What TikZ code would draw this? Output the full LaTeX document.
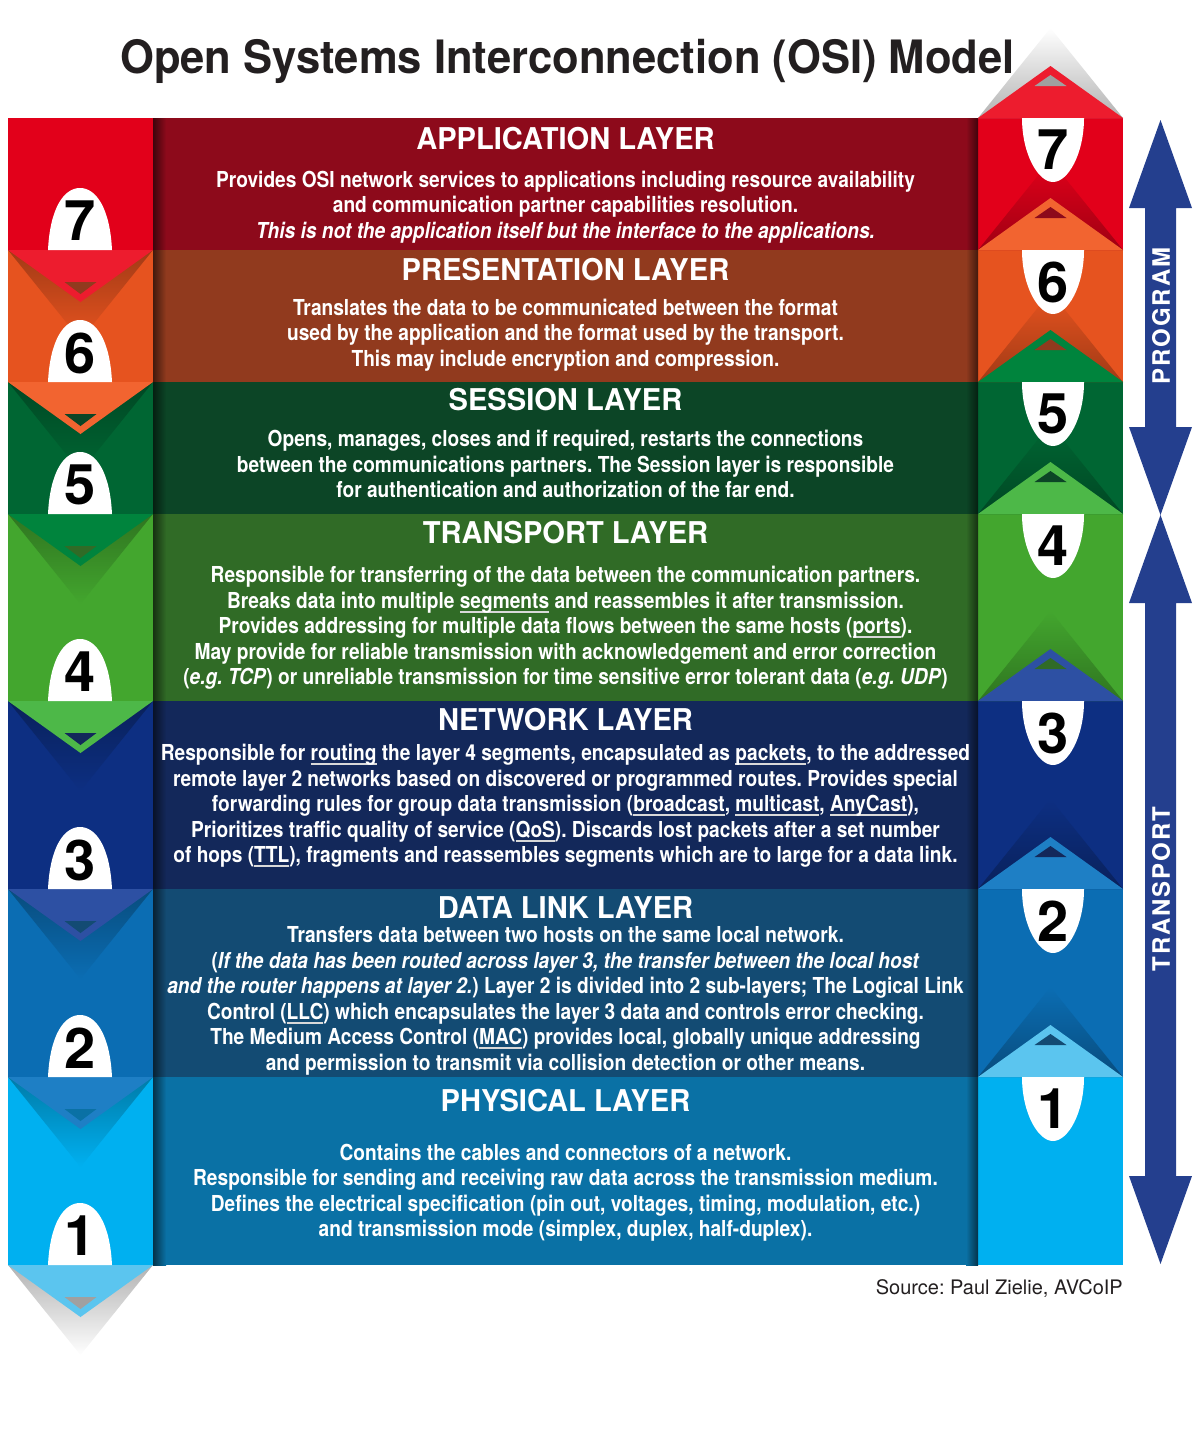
\documentclass[tikz,border=0pt]{standalone}
\usepackage{fontspec}
\usepackage{xcolor}
\usepackage{tikz}
\setmainfont{TeX Gyre Heros}
\newfontfamily\bodyfont{TeX Gyre Heros}[FakeStretch=0.87]
\newfontfamily\headfont{TeX Gyre Heros}[FakeStretch=0.97]
\newfontfamily\titlefont{TeX Gyre Heros}[FakeStretch=0.947]
\newfontfamily\sidefont{TeX Gyre Heros}[LetterSpace=8]
\newcommand\ulw[1]{\setbox0\hbox{#1}\rlap{\color{white!85!black}\vrule height -2.5pt depth 4.5pt width \wd0}\box0{}}

\definecolor{colSeven}{HTML}{E2001A}\definecolor{lightSeven}{HTML}{ED1C2E}\definecolor{bandSeven}{HTML}{8D0A1B}
\definecolor{colSix}{HTML}{E6531F}\definecolor{lightSix}{HTML}{F26430}\definecolor{bandSix}{HTML}{913A1E}
\definecolor{colFive}{HTML}{006633}\definecolor{lightFive}{HTML}{00843D}\definecolor{bandFive}{HTML}{0C4526}
\definecolor{colFour}{HTML}{43A62E}\definecolor{lightFour}{HTML}{4DB848}\definecolor{bandFour}{HTML}{306B26}
\definecolor{colThree}{HTML}{0D2F82}\definecolor{lightThree}{HTML}{2D50A3}\definecolor{bandThree}{HTML}{13285A}
\definecolor{colTwo}{HTML}{0B6DB3}\definecolor{lightTwo}{HTML}{1E7FC5}\definecolor{bandTwo}{HTML}{134B73}
\definecolor{colOne}{HTML}{00B0F0}\definecolor{lightOne}{HTML}{5BC5EF}\definecolor{bandOne}{HTML}{0A71A5}
\definecolor{arrowBlue}{HTML}{243F8E}
\definecolor{titleInk}{HTML}{231F20}
\definecolor{shadowGray}{HTML}{A0A0A0}

\begin{document}
\frenchspacing
\begin{tikzpicture}[x=1pt,y=-1pt,
  layertitle/.style={text=white, font=\headfont\bfseries\fontsize{30}{34}\selectfont},
  layertext/.style={text=white, align=center, font=\bodyfont\bfseries\fontsize{22}{25.5}\selectfont},
  badgenum/.style={text=black, font=\bfseries\fontsize{56}{56}\selectfont},
  sidelabel/.style={text=white, rotate=90, font=\sidefont\bfseries\fontsize{24}{24}\selectfont}]
			\useasboundingbox (0,0) rectangle (1200,1456);
			% 各层底色
			\foreach \t/\b/\c/\k in {118/250/colSeven/bandSeven, 250/382/colSix/bandSix,
			  382/514/colFive/bandFive, 514/701/colFour/bandFour, 701/889/colThree/bandThree,
			  889/1077/colTwo/bandTwo, 1077/1265/colOne/bandOne}{
			  \fill[\c] (8,\t) rectangle (153,\b);
			  \fill[\c] (978,\t) rectangle (1123,\b);
			  \fill[\k] (153,\t) rectangle (978,\b);
			  \shade[left color=\k!45!black, right color=\k] (153,\t) rectangle (166,\b);
			  \shade[left color=\k, right color=\k!45!black] (966,\t) rectangle (978,\b);
			}
			% 阴影
			\foreach \t/\b/\dn/\up in {118/250/colSix/white, 250/382/colFive/colSeven,
			  382/514/colFour/colSix, 514/701/colThree/colFive, 701/889/colTwo/colFour,
			  889/1077/colOne/colThree, 1077/1265/white/colTwo}{
			  \shade[top color=\dn!70!black, bottom color=\dn] (8,\b) -- (153,\b) -- (80.5,{\b+90}) -- cycle;
			  \shade[bottom color=\up!70!black, top color=\up] (978,\t) -- (1123,\t) -- (1050.5,{\t-90}) -- cycle;
			}
			% 箭头形状和编号
			\foreach \t/\b/\l/\n/\dk/\uk in {118/250/lightSeven/7/bandSix/shadowGray,
			  250/382/lightSix/6/bandFive/bandSeven,
			  382/514/lightFive/5/bandFour/bandSix,
			  514/701/lightFour/4/bandThree/bandFive,
			  701/889/lightThree/3/bandTwo/bandFour,
			  889/1077/lightTwo/2/bandOne/bandThree,
			  1077/1265/lightOne/1/shadowGray/bandTwo}{
			  \fill[\l] (8,\b) -- (153,\b) -- (80.5,{\b+52}) -- cycle;
			  \fill[\dk] (64.5,{\b+32}) -- (96.5,{\b+32}) -- (80.5,{\b+44}) -- cycle;
			  \fill[\l] (978,\t) -- (1123,\t) -- (1050.5,{\t-52}) -- cycle;
			  \fill[\uk] (1034.5,{\t-32}) -- (1066.5,{\t-32}) -- (1050.5,{\t-43}) -- cycle;
			  \fill[white] (48,\b) .. controls (50,{\b-42}) and (64,{\b-62}) .. (80,{\b-62})
			    .. controls (96,{\b-62}) and (110,{\b-42}) .. (112,\b) -- cycle;
			  \fill[white] (1022,\t) .. controls (1022,{\t+36}) and (1038,{\t+64}) .. (1053,{\t+64})
			    .. controls (1068,{\t+64}) and (1084,{\t+36}) .. (1084,\t) -- cycle;
			  \node[badgenum] (left\n) at (80,{\b-29}) {\n};
			  \node[badgenum] (right\n) at (1053,{\t+32}) {\n};
			}
			% 右侧双向箭头
			\fill[arrowBlue] (1160.5,120) -- (1192,208) -- (1176,208) -- (1176,427) -- (1192,427) -- (1160.5,515)
			  -- (1129,427) -- (1145,427) -- (1145,208) -- (1129,208) -- cycle;
			\fill[arrowBlue] (1160.5,515) -- (1192,603) -- (1176,603) -- (1176,1176) -- (1192,1176) -- (1160.5,1264)
			  -- (1129,1176) -- (1145,1176) -- (1145,603) -- (1129,603) -- cycle;
			\node[sidelabel] (program) at (1161,316) {PROGRAM};
			\node[sidelabel] (transport) at (1161,889) {TRANSPORT};
			% 标题和来源
			\node[anchor=base, text=titleInk, font=\titlefont\bfseries\fontsize{46}{50}\selectfont] (title) at (567.5,73)
			  {Open Systems Interconnection (OSI) Model};
			\node[anchor=base east, inner sep=0pt, text=titleInk, font=\fontsize{20}{22}\selectfont] (source) at (1123,1294)
			  {Source: Paul Zielie, AVCoIP};
			% 写文字
			\node[layertitle] (appTitle) at (565.5,139) {APPLICATION LAYER};
			\node[layertext] (appText) at (565.5,207) {Provides OSI network services to applications including resource availability\\
			  and communication partner capabilities resolution.\\
			  \textit{This is not the application itself but the interface to the applications.}};
			\node[layertitle] (presTitle) at (565.5,270) {PRESENTATION LAYER};
			\node[layertext] (presText) at (565.5,335) {Translates the data to be communicated between the format\\
			  used by the application and the format used by the transport.\\
			  This may include encryption and compression.};
			\node[layertitle] (sessTitle) at (565.5,400) {SESSION LAYER};
			\node[layertext] (sessText) at (565.5,464) {Opens, manages, closes and if required, restarts the connections\\
			  between the communications partners. The Session layer is responsible\\
			  for authentication and authorization of the far end.};
			\node[layertitle] (tranTitle) at (565.5,533) {TRANSPORT LAYER};
			\node[layertext] (tranText) at (565.5,628) {Responsible for transferring of the data between the communication partners.\\
			  Breaks data into multiple \ulw{segments} and reassembles it after transmission.\\
			  Provides addressing for multiple data flows between the same hosts (\ulw{ports}).\\
			  May provide for reliable transmission with acknowledgement and error correction\\
			  (\textit{e.g. TCP}) or unreliable transmission for time sensitive error tolerant data (\textit{e.g. UDP})};
			\node[layertitle] (netTitle) at (565.5,720) {NETWORK LAYER};
			\node[layertext] (netText) at (565.5,806) {Responsible for \ulw{routing} the layer 4 segments, encapsulated as \ulw{packets}, to the addressed\\
			  remote layer 2 networks based on discovered or programmed routes. Provides special\\
			  forwarding rules for group data transmission (\ulw{broadcast}, \ulw{multicast}, \ulw{AnyCast}),\\
			  Prioritizes traffic quality of service (\ulw{QoS}). Discards lost packets after a set number\\
			  of hops (\ulw{TTL}), fragments and reassembles segments which are to large for a data link.};
			\node[layertitle] (linkTitle) at (565.5,908) {DATA LINK LAYER};
			\node[layertext] (linkText) at (565.5,1001) {Transfers data between two hosts on the same local network.\\
			  (\textit{If the data has been routed across layer 3, the transfer between the local host}\\
			  \textit{and the router happens at layer 2.}) Layer 2 is divided into 2 sub-layers; The Logical Link\\
			  Control (\ulw{LLC}) which encapsulates the layer 3 data and controls error checking.\\
			  The Medium Access Control (\ulw{MAC}) provides local, globally unique addressing\\
			  and permission to transmit via collision detection or other means.};
			\node[layertitle] (physTitle) at (565.5,1101) {PHYSICAL LAYER};
			\node[layertext] (physText) at (565.5,1192.5) {Contains the cables and connectors of a network.\\
			  Responsible for sending and receiving raw data across the transmission medium.\\
			  Defines the electrical specification (pin out, voltages, timing, modulation, etc.)\\
			  and transmission mode (simplex, duplex, half-duplex).};
		\end{tikzpicture}
\end{document}
